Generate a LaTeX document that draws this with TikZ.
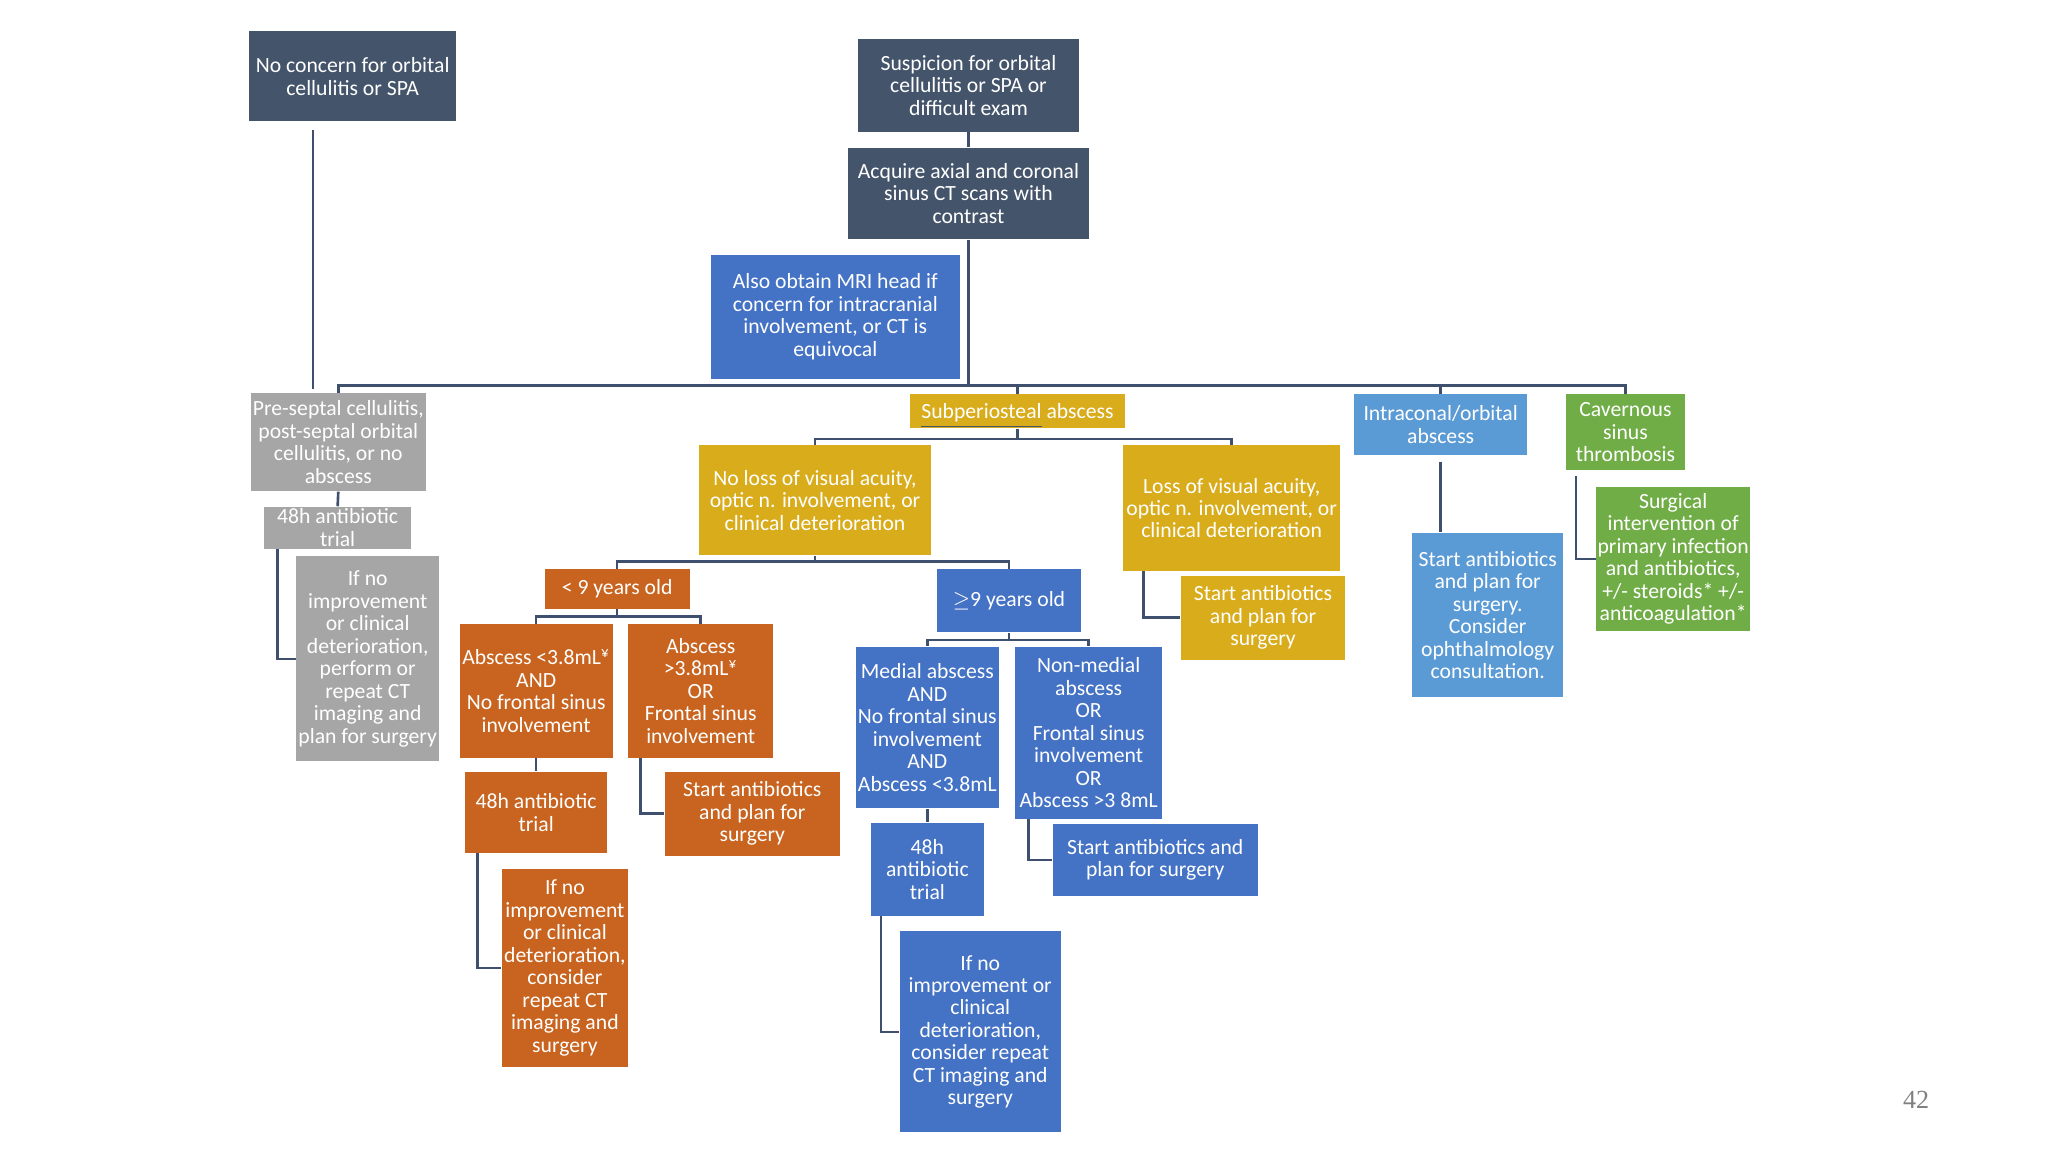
\documentclass[tikz,border=0pt]{standalone}
\usepackage{fontspec}
\setmainfont{Carlito}
\newfontfamily\pagefont{Liberation Serif}
\usetikzlibrary{calc}
\definecolor{cdk}{HTML}{44546A}
\definecolor{cblu}{HTML}{4472C4}
\definecolor{clbl}{HTML}{5B9BD5}
\definecolor{cgold}{HTML}{D9AC1C}
\definecolor{corg}{HTML}{C8641F}
\definecolor{cgray}{HTML}{A6A6A6}
\definecolor{cgrn}{HTML}{70AD47}
\definecolor{cline}{HTML}{3F4F6E}
\begin{document}
\begin{tikzpicture}[x=0.5pt,y=-0.5pt,
  box/.style={inner sep=0pt, align=center, text=white, font=\fontsize{8.3}{8.6}\selectfont},
  sz/.style 2 args={minimum width=#1*0.5pt, minimum height=#2*0.5pt},
  dkbox/.style={box, fill=cdk},
  blbox/.style={box, fill=cblu},
  lbbox/.style={box, fill=clbl},
  gdbox/.style={box, fill=cgold},
  orbox/.style={box, fill=corg},
  grbox/.style={box, fill=cgray},
  gnbox/.style={box, fill=cgrn},
  conn/.style={draw=cline, line width=1pt}]
\fill[white] (0,0) rectangle (1568,882);
\useasboundingbox (0,0) rectangle (1568,882);

% top
\node[dkbox, sz={158}{69}] (nc) at (270,58.5) {No concern for orbital\\cellulitis or SPA};
\node[dkbox, sz={169}{71}] (susp) at (741.5,65.5) {Suspicion for orbital\\cellulitis or SPA or\\difficult exam};
\node[dkbox, sz={185}{70}] (acq) at (741.5,148) {Acquire axial and coronal\\sinus CT scans with\\contrast};
\node[blbox, sz={191}{95}] (mri) at (639.5,242.5) {Also obtain MRI head if\\concern for intracranial\\involvement, or CT is\\equivocal};

% level 2
\node[grbox, sz={134}{75}] (pre) at (259,338.5) {Pre-septal cellulitis,\\post-septal orbital\\cellulitis, or no\\abscess};
\node[grbox, sz={113}{32}] (g48) at (258.5,404) {48h antibiotic\\trial};
\node[grbox, sz={109}{157}] (gif) at (281.5,504.5) {If no\\improvement\\or clinical\\deterioration,\\perform or\\repeat CT\\imaging and\\plan for surgery};

\node[gdbox, sz={164}{26}] (sub) at (779,315) {\smash{\color{cdk}$\underline{\hbox{\color{white}Subperiosteal}}$} abscess};
\node[lbbox, sz={132}{46}] (intr) at (1103,325) {Intraconal/orbital\\abscess};
\node[gnbox, sz={91}{58}] (cav) at (1244.5,331) {Cavernous\\sinus\\thrombosis};

% subperiosteal
\node[gdbox, sz={178}{84}] (nl) at (624,383) {No loss of visual acuity,\\optic n. involvement, or\\clinical deterioration};
\node[gdbox, sz={166}{96}] (loss) at (943,389) {Loss of visual acuity,\\optic n. involvement, or\\clinical deterioration};
\node[gdbox, sz={126}{64}] (ys) at (967,473) {Start antibiotics\\and plan for\\surgery};

\node[orbox, sz={111}{30}] (lt9) at (472.5,451) {< 9 years old};
\node[blbox, sz={111}{48}] (ge9) at (772.5,460) {$\geq$9 years old};

\node[orbox, sz={117}{102}] (a1) at (410.5,529) {Abscess <3.8mL\textsuperscript{¥}\\AND\\No frontal sinus\\involvement};
\node[orbox, sz={111}{102}] (a2) at (536.5,529) {Abscess\\>3.8mL\textsuperscript{¥}\\OR\\Frontal sinus\\involvement};
\node[orbox, sz={109}{62}] (o48) at (410.5,622) {48h antibiotic\\trial};
\node[orbox, sz={97}{152}] (oif) at (432.5,741) {If no\\improvement\\or clinical\\deterioration,\\consider\\repeat CT\\imaging and\\surgery};
\node[orbox, sz={134}{64}] (os) at (576,623) {Start antibiotics\\and plan for\\surgery};

\node[blbox, sz={110}{124}] (med) at (710,557) {Medial abscess\\AND\\No frontal sinus\\involvement\\AND\\Abscess <3.8mL};
\node[blbox, sz={113}{132}] (nonmed) at (833.5,561) {Non-medial\\abscess\\OR\\Frontal sinus\\involvement\\OR\\Abscess >3 8mL};
\node[blbox, sz={86}{71}] (b48) at (710,665.5) {48h\\antibiotic\\trial};
\node[blbox, sz={123}{154}] (bif) at (750.5,790) {If no\\improvement or\\clinical\\deterioration,\\consider repeat\\CT imaging and\\surgery};
\node[blbox, sz={157}{55}] (bs) at (884.5,658.5) {Start antibiotics and\\plan for surgery};

\node[lbbox, sz={116}{126}] (lb) at (1139,471) {Start antibiotics\\and plan for\\surgery.\\Consider\\ophthalmology\\consultation.};
\node[gnbox, sz={118}{110}] (surg) at (1281,428) {Surgical\\intervention of\\primary infection\\and antibiotics,\\+/- steroids* +/-\\anticoagulation*};

\node[text=gray, font=\pagefont\fontsize{10}{12}\selectfont] (pg) at (1467,842) {42};

% connectors
\coordinate (by) at (0,295);
\draw[conn] (susp.south) -- (acq.north);
\draw[conn] (acq.south) -- (acq.south |- by);
\draw[conn] (pre.north) -- (pre.north |- by) -- (cav.north |- by) -- (cav.north);
\draw[conn] (sub.north) -- (sub.north |- by);
\draw[conn] (intr.north) -- (intr.north |- by);
\draw[conn] ($(nc.south west)+(49,6)$) -- ($(pre.north west)+(48,-3)$);

\draw[conn] (pre.south) -- (g48.north);
\draw[conn] ($(g48.south west)+(11,0)$) |- (gif.west);

\coordinate (b2) at (0,336);
\draw[conn] (sub.south) -- (sub.south |- b2);
\draw[conn] (nl.north) -- (nl.north |- b2) -- (loss.north |- b2) -- (loss.north);
\draw[conn] ($(loss.south west)+(16,0)$) |- (ys.west);

\coordinate (b3) at (0,430);
\draw[conn] (nl.south) -- (nl.south |- b3);
\draw[conn] (lt9.north) -- (lt9.north |- b3) -- (ge9.north |- b3) -- (ge9.north);

\coordinate (b4) at (0,472);
\draw[conn] (lt9.south) -- (lt9.south |- b4);
\draw[conn] (a1.north) -- (a1.north |- b4) -- (a2.north |- b4) -- (a2.north);
\draw[conn] (a1.south) -- (o48.north);
\draw[conn] ($(o48.south west)+(10,0)$) |- (oif.west);
\draw[conn] ($(a2.south west)+(10,0)$) |- (os.west);

\coordinate (b5) at (0,490);
\draw[conn] (ge9.south) -- (ge9.south |- b5);
\draw[conn] (med.north) -- (med.north |- b5) -- (nonmed.north |- b5) -- (nonmed.north);
\draw[conn] (med.south) -- (b48.north);
\draw[conn] ($(b48.south west)+(8,0)$) |- (bif.west);
\draw[conn] ($(nonmed.south west)+(11,0)$) |- (bs.west);

\draw[conn] ($(intr.south)+(0,5)$) -- (intr.south |- lb.north);
\draw[conn] ($(cav.south west)+(8,4)$) |- (surg.west);
\end{tikzpicture}
\end{document}
